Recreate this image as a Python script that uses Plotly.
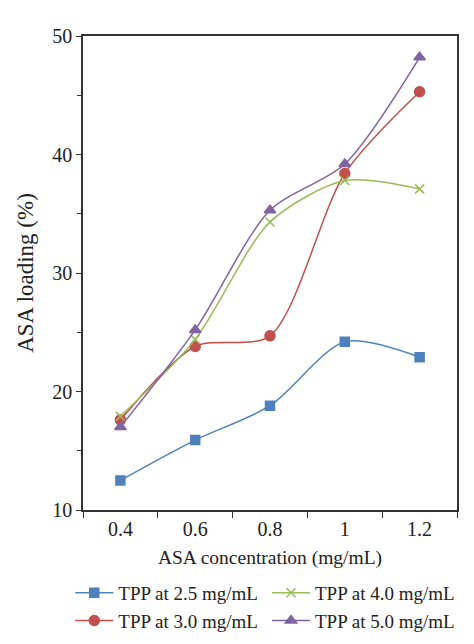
import plotly.graph_objects as go

concentration = [0.4, 0.6, 0.8, 1.0, 1.2]
tpp_25 = [12.5, 15.9, 18.8, 24.2, 22.9]
tpp_30 = [17.6, 23.8, 24.7, 38.4, 45.3]
tpp_40 = [17.9, 24.4, 34.3, 37.8, 37.1]
tpp_50 = [17.0, 25.2, 35.3, 39.2, 48.2]

x_labels = ["0.4", "0.6", "0.8", "1", "1.2"]

# name, values, colour, marker, size, legend column
series = [
    ("TPP at 2.5 mg/mL", tpp_25, "#4F81BD", "square", 9, "legend"),
    ("TPP at 3.0 mg/mL", tpp_30, "#C0504D", "circle", 10, "legend"),
    ("TPP at 4.0 mg/mL", tpp_40, "#9BBB59", "x-thin", 9, "legend2"),
    ("TPP at 5.0 mg/mL", tpp_50, "#8064A2", "triangle-up", 10, "legend2"),
]

fig = go.Figure()
for name, vals, color, symbol, size, leg in series:
    fig.add_trace(go.Scatter(
        x=concentration, y=vals, name=name, mode="lines+markers",
        line=dict(color=color, width=1.5, shape="spline", smoothing=0.8),
        marker=dict(symbol=symbol, size=size, color=color,
                    line=dict(color=color, width=1.5)),
        legend=leg,
    ))

serif = "Liberation Serif, Times New Roman, serif"
legend_style = dict(orientation="v", y=-0.135, yanchor="top",
                    font=dict(family=serif, size=19), itemwidth=38,
                    tracegroupgap=0, bgcolor="rgba(0,0,0,0)")

fig.update_layout(
    width=474, height=644,
    margin=dict(l=75, r=25, t=28, b=139),
    paper_bgcolor="white", plot_bgcolor="white",
    font=dict(family=serif, size=19, color="#222"),
    showlegend=True,
    legend=dict(x=-0.034, xanchor="left", **legend_style),
    legend2=dict(x=0.492, xanchor="left", **legend_style),
)
fig.update_xaxes(
    range=[0.3, 1.3], tickvals=concentration, ticktext=x_labels, ticks="",
    tickfont=dict(family=serif, size=20),
    minor=dict(tick0=0.3, dtick=0.2, ticks="outside", ticklen=6,
               tickcolor="#333"),
    showgrid=False, zeroline=False, showline=True, linecolor="#333",
    linewidth=1.5, mirror=True, automargin=False,
    title=dict(text="ASA concentration (mg/mL)", standoff=12,
               font=dict(family=serif, size=19.5)),
)
fig.update_yaxes(
    range=[10, 50], tick0=10, dtick=10, ticks="outside", ticklen=5,
    tickcolor="#333", tickfont=dict(family=serif, size=20),
    minor=dict(tick0=15, dtick=10, ticks="outside", ticklen=4,
               tickcolor="#333"),
    showgrid=False, zeroline=False, showline=True, linecolor="#333",
    linewidth=1.5, mirror=True, automargin=False,
    title=dict(text="ASA loading (%)", standoff=12,
               font=dict(family=serif, size=23)),
)

fig.write_html("out.html")
